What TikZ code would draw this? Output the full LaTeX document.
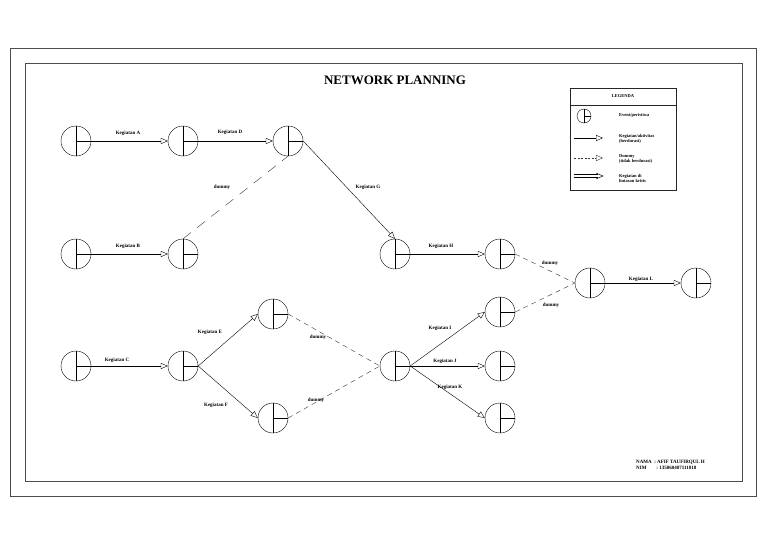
\documentclass[tikz,border=0pt]{standalone}
\usepackage{fontspec}
\setmainfont{Liberation Serif}
\usetikzlibrary{arrows.meta}
\begin{document}
\begin{tikzpicture}[x=1pt,y=-1pt,
  ev/.style={circle,draw,minimum size=30pt,inner sep=0pt,path picture={
    \draw[line width=0.8pt] (path picture bounding box.north) -- (path picture bounding box.south);
    \draw[line width=0.8pt] (path picture bounding box.center) -- (path picture bounding box.east);}},
  act/.style={draw,-{Triangle[open,length=7pt,width=6pt]},thin},
  dum/.style={draw,dash pattern=on 5pt off 4pt,gray!40!black},
  dumlong/.style={draw,dash pattern=on 10pt off 8pt,gray!40!black},
  lb/.style={font=\fontsize{5}{6}\selectfont\bfseries,inner sep=1pt},
  lg/.style={lb,anchor=west,align=left,font=\fontsize{4.5}{5}\selectfont\bfseries}]
\useasboundingbox (0,0) rectangle (768,543);
\draw[gray!60!black,line width=0.8pt] (10,48) rectangle (756,496);
\draw[gray!60!black,line width=0.8pt] (25,63) rectangle (742,481);
\node[font=\fontsize{13}{15}\selectfont\bfseries] (title) at (395,80) {NETWORK PLANNING};
% nodes
\node[ev] (a1) at (76,141) {};
\node[ev] (a2) at (183,141) {};
\node[ev] (d) at (288,141) {};
\node[ev] (b1) at (76,254) {};
\node[ev] (b2) at (183,254) {};
\node[ev] (g) at (395,254) {};
\node[ev] (h) at (500,254) {};
\node[ev] (l1) at (590,283) {};
\node[ev] (l2) at (696,283) {};
\node[ev] (e) at (273,314) {};
\node[ev] (c1) at (76,366) {};
\node[ev] (c2) at (183,366) {};
\node[ev] (f) at (273,418) {};
\node[ev] (x) at (395,366) {};
\node[ev] (i) at (500,312) {};
\node[ev] (j) at (500,366) {};
\node[ev] (k) at (500,418) {};
% edges
\draw[act] (a1) -- (a2);
\draw[act] (a2) -- (d);
\draw[act] (d.east) -- (g.north);
\draw[act] (b1) -- (b2);
\draw[dumlong] (b2.north) -- (d.south);
\draw[act] (g) -- (h);
\draw[dum] (h.east) -- (l1.west);
\draw[dum] (i.east) -- (l1.west);
\draw[act] (l1) -- (l2);
\draw[act] (c1) -- (c2);
\draw[act] (c2.east) -- (e.west);
\draw[act] (c2.east) -- (f.west);
\draw[dum] (e.east) -- (x.west);
\draw[dum] (f.east) -- (x.west);
\draw[act] (x.east) -- (i.west);
\draw[act] (x.east) -- (j.west);
\draw[act] (x.east) -- (k.west);
% labels
\node[lb] (la) at (128,133) {Kegiatan A};
\node[lb] (ld) at (230,132) {Kegiatan D};
\node[lb] (lg) at (368,187) {Kegiatan G};
\node[lb] (lbb) at (128,246) {Kegiatan B};
\node[lb] (ldm1) at (222,187) {dummy};
\node[lb] (lh) at (441,246) {Kegiatan H};
\node[lb] (ll) at (641,279) {Kegiatan L};
\node[lb] (lc) at (117,360) {Kegiatan C};
\node[lb] (le) at (210,332) {Kegiatan E};
\node[lb] (lf) at (216,405) {Kegiatan F};
\node[lb] (li) at (440,328) {Kegiatan I};
\node[lb] (lj) at (445,361) {Kegiatan J};
\node[lb] (lk) at (450,387) {Kegiatan K};
\node[lb] (ldm2) at (550,263) {dummy};
\node[lb] (ldm3) at (551,305) {dummy};
\node[lb] (ldm4) at (318,337) {dummy};
\node[lb] (ldm5) at (316,400) {dummy};
% legend
\draw[gray!30!black] (570,88) rectangle (676,190);
\draw[gray!30!black] (570,105) -- (676,105);
\node[lb,font=\fontsize{4.5}{5}\selectfont\bfseries] (lt) at (623,96) {LEGENDA};
\node[circle,draw,minimum size=14pt,inner sep=0pt,path picture={
    \draw (path picture bounding box.north) -- (path picture bounding box.south);
    \draw (path picture bounding box.center) -- (path picture bounding box.east);}] (lev) at (584,116) {};
\node[lg] (t1) at (618,115) {Event/peristiwa};
\coordinate (s1) at (574,138); \coordinate (e1) at (603,138);
\draw[act] (s1) -- (e1);
\node[lg] (t2) at (618,139) {Kegiatan/aktivitas\\(berdurasi)};
\coordinate (s2) at (574,158); \coordinate (e2) at (603,158);
\draw[dum,dash pattern=on 2pt off 1.5pt,-{Triangle[open,length=7pt,width=6pt]}] (s2) -- (e2);
\node[lg] (t3) at (618,159) {Dummy\\(tidak berdurasi)};
\coordinate (s3) at (574,176); \coordinate (e3) at (603,176);
\draw[line width=0.7pt] ([yshift=-1.2pt]s3) -- ([xshift=-5pt,yshift=-1.2pt]e3);
\draw[line width=0.7pt] ([yshift=1.2pt]s3) -- ([xshift=-5pt,yshift=1.2pt]e3);
\draw[line width=0.5pt] ([xshift=-7pt,yshift=-3pt]e3) -- (e3) -- ([xshift=-7pt,yshift=3pt]e3);
\node[lg] (t4) at (618,178) {Kegiatan di\\lintasan kritis};
% name
\node[lb,anchor=west,align=left] (nm) at (635,465) {NAMA\ \ : AFIF TAUFIRQUL H\\NIM\qquad: 135060407111018};
\end{tikzpicture}
\end{document}
